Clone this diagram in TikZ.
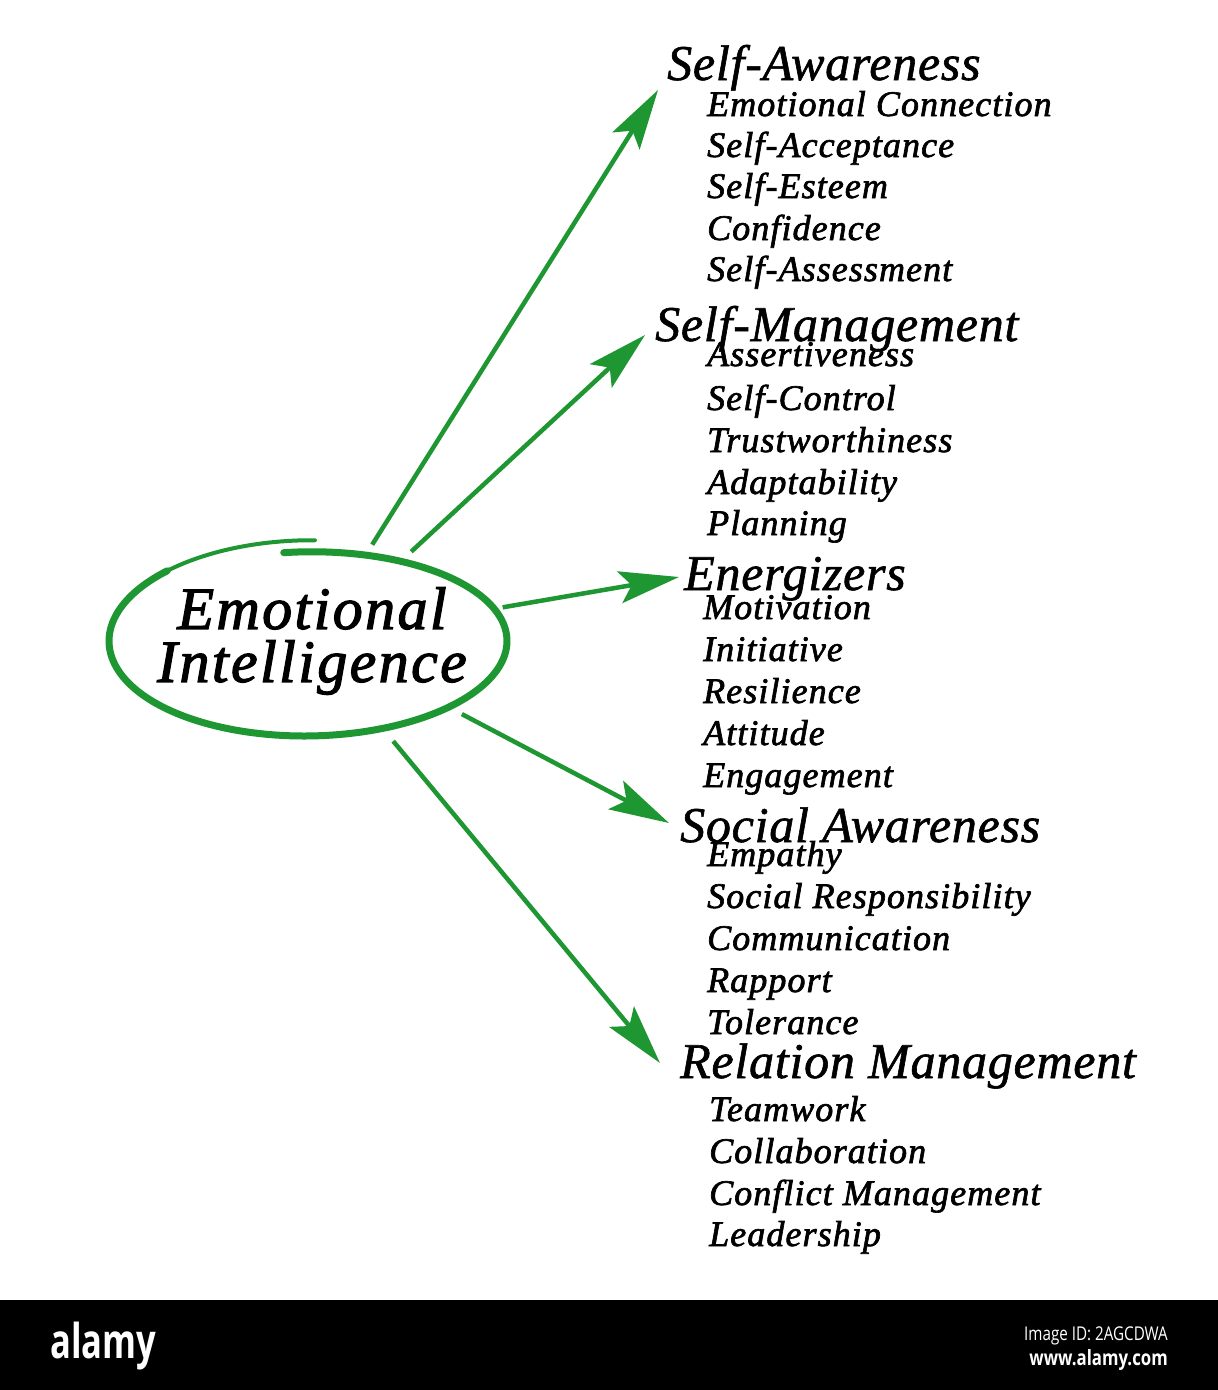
\documentclass[tikz,border=0pt]{standalone}
\usepackage{fontspec}
\setmainfont{Liberation Serif}
\newfontfamily\headfont[FakeBold=1.2, LetterSpace=1.5]{Liberation Serif Italic}
\newfontfamily\itemfont[FakeBold=1.8, LetterSpace=3]{Liberation Serif Italic}
\newfontfamily\centfont[FakeBold=2, LetterSpace=4]{Liberation Serif Italic}
\newfontfamily\wmfont{Open Sans}
\usetikzlibrary{arrows.meta,shapes.geometric}
\definecolor{eigreen}{RGB}{30,150,50}
\begin{document}
\begin{tikzpicture}[x=1pt,y=-1pt,
  headtxt/.style={anchor=base west, inner sep=0pt, font=\headfont\fontsize{50}{50}\selectfont},
  itemtxt/.style={anchor=base west, inner sep=0pt, font=\itemfont\fontsize{36}{36}\selectfont},
  conn/.style={draw=eigreen, line width=4.5pt, -{Stealth[length=60pt,width=32pt,inset=12pt]}},
  ring/.style={draw=eigreen, line cap=round, line join=round}]
\useasboundingbox (0,0) rectangle (1218,1390);
\fill[white] (0,0) rectangle (1218,1300);
\fill[black] (0,1300) rectangle (1218,1390);

% central ellipse node
\node[ellipse, minimum width=420pt, minimum height=200pt, inner sep=0pt, align=center,
      font=\centfont\fontsize{60}{53}\selectfont] (ei) at (312,641) {Emotional\\Intelligence};
% hand drawn ring
\draw[ring, line width=7pt] plot[domain=-97:225, samples=160, smooth]
  ({308+199*cos(\x)}, {641+(89+0.032*(\x+97))*sin(\x)});
\draw[ring, line width=4pt] plot[domain=225:272, samples=30, smooth]
  ({308+199*cos(\x)}, {641+(89+0.032*(\x+97))*sin(\x)});

% headings
\node[headtxt] (h1) at (667,80) {Self-Awareness};
\node[headtxt] (h2) at (655,341) {Self-Management};
\node[headtxt] (h3) at (684,590) {Energizers};
\node[headtxt] (h4) at (680,842) {Social Awareness};
\node[headtxt] (h5) at (680,1078) {Relation Management};

% items
\node[itemtxt] (a1) at (707,116) {Emotional Connection};
\node[itemtxt] (a2) at (707,157) {Self-Acceptance};
\node[itemtxt] (a3) at (707,198) {Self-Esteem};
\node[itemtxt] (a4) at (707,240) {Confidence};
\node[itemtxt] (a5) at (707,281) {Self-Assessment};

\node[itemtxt] (b1) at (707,366) {Assertiveness};
\node[itemtxt] (b2) at (707,410) {Self-Control};
\node[itemtxt] (b3) at (707,452) {Trustworthiness};
\node[itemtxt] (b4) at (707,494) {Adaptability};
\node[itemtxt] (b5) at (707,535) {Planning};

\node[itemtxt] (c1) at (703,619) {Motivation};
\node[itemtxt] (c2) at (703,661) {Initiative};
\node[itemtxt] (c3) at (703,703) {Resilience};
\node[itemtxt] (c4) at (703,745) {Attitude};
\node[itemtxt] (c5) at (703,787) {Engagement};

\node[itemtxt] (d1) at (707,866) {Empathy};
\node[itemtxt] (d2) at (707,908) {Social Responsibility};
\node[itemtxt] (d3) at (707,950) {Communication};
\node[itemtxt] (d4) at (707,992) {Rapport};
\node[itemtxt] (d5) at (707,1034) {Tolerance};

\node[itemtxt] (e1) at (709,1121) {Teamwork};
\node[itemtxt] (e2) at (709,1163) {Collaboration};
\node[itemtxt] (e3) at (709,1205) {Conflict Management};
\node[itemtxt] (e4) at (709,1246) {Leadership};

% connectors
\draw[conn] (ei.58) -- ([shift={(-9,10)}]h1.base west);
\draw[conn] (ei.42) -- ([shift={(-10,-6)}]h2.base west);
\draw[conn, shorten <=-14pt] (ei.10) -- ([shift={(-5,-13)}]h3.base west);
\draw[conn] (ei.-26) -- ([shift={(-11,-19)}]h4.base west);
\draw[conn, shorten <=8pt] (ei.-51) -- ([shift={(-20,-15)}]h5.base west);

% watermark bar
\node[anchor=base west, inner sep=0pt, text=white, font=\wmfont\bfseries\fontsize{48}{48}\selectfont] (wm) at (50,1358) {\scalebox{0.72}[1]{alamy}};
\node[anchor=base east, inner sep=0pt, text=white, font=\wmfont\fontsize{19}{19}\selectfont] (wid) at (1168,1340) {\scalebox{0.8}[1]{Image ID: 2AGCDWA}};
\node[anchor=base east, inner sep=0pt, text=white, font=\wmfont\bfseries\fontsize{21}{21}\selectfont] (wurl) at (1168,1365) {\scalebox{0.8}[1]{www.alamy.com}};
\end{tikzpicture}
\end{document}
